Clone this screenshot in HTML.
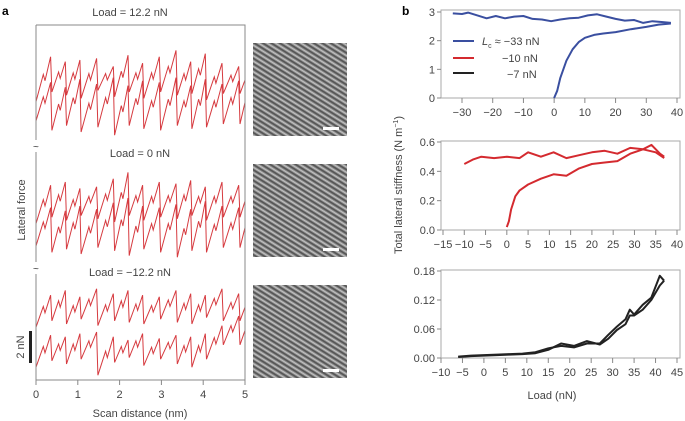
<!DOCTYPE html>
<html><head><meta charset="utf-8">
<style>
body{margin:0;background:#fff;}
svg{display:block;font-family:"Liberation Sans",sans-serif;}
</style></head>
<body>
<svg id="fig" width="685" height="421" viewBox="0 0 685 421">
<defs>
<pattern id="stripes" width="4.5" height="4.5" patternUnits="userSpaceOnUse" patternTransform="rotate(32)">
<rect width="4.5" height="4.5" fill="#8e8e8e"/>
<rect width="4.5" height="1.6" fill="#555"/>
<rect y="2.6" width="4.5" height="1" fill="#c8c8c8"/>
</pattern>
</defs>
<text x="2" y="15" font-size="12" font-weight="bold">a</text>
<text x="402" y="15" font-size="12" font-weight="bold">b</text>
<g id="pa"></g>
<g id="pb"></g>
<g font-family="Liberation Sans, sans-serif" font-size="11" fill="#444">
<line x1="453" y1="41" x2="474" y2="41" stroke="#3a4fa0" stroke-width="2"/>
<line x1="453" y1="58" x2="474" y2="58" stroke="#d42a2f" stroke-width="2"/>
<line x1="453" y1="73" x2="474" y2="73" stroke="#222" stroke-width="2"/>
<text x="482" y="45"><tspan font-style="italic">L</tspan><tspan font-size="7" dy="3">c</tspan><tspan dy="-3"> ≈ −33 nN</tspan></text>
<text x="502" y="62">−10 nN</text>
<text x="507" y="78">−7 nN</text>
<text x="552" y="399" text-anchor="middle">Load (nN)</text>
<text transform="translate(402,185) rotate(-90)" text-anchor="middle">Total lateral stiffness (N m<tspan font-size="7" dy="-4">−1</tspan><tspan dy="4">)</tspan></text>
</g>
</svg>
<script>
// ---- Panel a data (lateral force, nN) ----
const peakX = [0.35,0.7,1.05,1.45,1.85,2.2,2.55,2.95,3.35,3.7,4.05,4.45,4.85];
const topUpperPeaks = [5.2,4.9,5.0,5.1,4.6,5.3,4.8,5.2,5.6,4.9,5.4,4.8,4.6];
const topUpperValleys = [2.4,3.0,2.8,2.6,3.1,2.7,3.0,2.6,3.0,2.8,2.9,2.5,2.9];
const topLowerPeaks = [3.6,3.3,3.8,3.5,3.9,3.4,3.7,3.6,3.9,3.4,3.8,3.5,3.7];
const topLowerValleys = [1.2,0.6,0.9,0.5,0.8,0.3,0.9,0.7,0.6,0.9,0.7,0.8,1.0];
const midUpperPeaks = [4.8,5.0,4.6,4.7,5.2,5.6,4.8,5.0,4.9,5.1,4.7,5.0,4.8];
const midUpperValleys = [2.4,2.8,2.6,2.9,2.7,2.5,2.9,2.6,2.8,2.7,2.9,2.6,2.8];
const midLowerPeaks = [3.4,3.2,3.5,3.3,3.7,4.0,3.5,3.4,3.6,3.3,3.8,3.5,3.4];
const midLowerValleys = [1.0,0.6,0.8,0.5,0.9,0.7,0.4,0.8,0.6,0.3,0.7,0.6,0.9];
const botUpperPeaks = [5.3,5.6,5.2,5.7,5.4,5.6,5.3,5.2,5.6,5.4,5.3,5.7,5.4];
const botUpperValleys = [3.3,3.7,3.5,3.8,3.4,3.7,3.6,3.5,3.8,3.6,3.5,3.9,3.7];
const botLowerPeaks = [2.8,2.7,2.9,3.0,2.7,2.5,2.9,2.6,2.8,2.7,2.9,3.4,4.0];
const botLowerValleys = [0.8,1.2,1.0,1.3,0.3,1.1,1.4,0.9,1.3,1.0,0.8,1.3,2.2];
const scanTicks = [0,1,2,3,4,5];

// ---- Panel b data ----
const blueUpX = [-33,-30,-28,-25,-22,-19,-16,-13,-10,-7,-4,-1,2,5,8,11,14,17,20,23,26,29,32,35,38];
const blueUpY = [2.95,2.93,2.98,2.88,2.78,2.86,2.78,2.84,2.86,2.76,2.74,2.68,2.74,2.78,2.80,2.88,2.92,2.84,2.76,2.70,2.72,2.62,2.68,2.65,2.62];
const blueDnX = [0,1,2,4,6,8,10,13,16,20,25,30,34,38];
const blueDnY = [0,0.25,0.7,1.3,1.7,1.95,2.1,2.2,2.25,2.3,2.4,2.48,2.56,2.6];
const redUpX = [-10,-8,-6,-3,0,3,5,8,11,14,17,20,23,26,29,32,34,36,37];
const redUpY = [0.45,0.48,0.50,0.49,0.50,0.49,0.53,0.50,0.53,0.49,0.51,0.53,0.54,0.52,0.56,0.55,0.58,0.52,0.50];
const redDnX = [0,0.5,1,2,3,5,8,11,14,17,20,23,26,29,32,35,37];
const redDnY = [0.02,0.06,0.14,0.23,0.27,0.31,0.35,0.38,0.37,0.42,0.45,0.46,0.47,0.52,0.55,0.53,0.49];
const blkAX = [-6,-3,0,3,6,9,12,15,18,21,24,27,29,31,33,34,35,37,39,41,42];
const blkAY = [0.003,0.005,0.006,0.007,0.008,0.009,0.012,0.02,0.025,0.022,0.03,0.03,0.048,0.065,0.08,0.10,0.09,0.11,0.125,0.17,0.16];
const blkBX = [-6,-3,0,3,6,9,12,15,18,21,24,27,29,31,33,34,35,37,39,41,42];
const blkBY = [0.002,0.004,0.005,0.006,0.007,0.008,0.010,0.017,0.030,0.025,0.035,0.028,0.040,0.058,0.070,0.088,0.088,0.10,0.12,0.15,0.16];
const bTopTicks = [-30,-20,-10,0,10,20,30,40];
const bTopYTicks = [0,1,2,3];
const bMidTicks = [-15,-10,-5,0,5,10,15,20,25,30,35,40];
const bMidYTicks = [0.0,0.2,0.4,0.6];
const bBotTicks = [-10,-5,0,5,10,15,20,25,30,35,40,45];
const bBotYTicks = [0.00,0.06,0.12,0.18];

const NS="http://www.w3.org/2000/svg";
function mk(parent,tag,attrs,txt){const e=document.createElementNS(NS,tag);for(const k in attrs)e.setAttribute(k,attrs[k]);if(txt!==undefined)e.textContent=txt;parent.appendChild(e);return e;}
const pa=document.getElementById('pa'), pb=document.getElementById('pb');
const GRAY="#888";

// ---- panel a ----
const ax=v=>36+v*41.8;
function sawPath(peaks,valleys,base){
  const fy=f=>base-f*16;
  let d="M"+ax(0)+","+fy(valleys[0]);
  for(let i=0;i<peakX.length;i++){
    const xp=peakX[i], xs=i?peakX[i-1]+0.03:0;
    const xm=(xs+xp)/2;
    d+=" L"+ax(xm).toFixed(1)+","+fy((valleys[i]+peaks[i])/2+0.3).toFixed(1);
    d+=" L"+ax(xm+0.04).toFixed(1)+","+fy((valleys[i]+peaks[i])/2-0.1).toFixed(1);
    d+=" L"+ax(xp).toFixed(1)+","+fy(peaks[i]).toFixed(1);
    const nv=i+1<valleys.length?valleys[i+1]:valleys[i];
    d+=" L"+ax(Math.min(xp+0.03,5)).toFixed(1)+","+fy(nv).toFixed(1);
  }
  d+=" L"+ax(5)+","+fy((peaks[peaks.length-1]+valleys[valleys.length-1])/2);
  return d;
}
const aPanels=[
  {base:140,up:[topUpperPeaks,topUpperValleys],lo:[topLowerPeaks,topLowerValleys],name:'top'},
  {base:262,up:[midUpperPeaks,midUpperValleys],lo:[midLowerPeaks,midLowerValleys],name:'middle'},
  {base:380,up:[botUpperPeaks,botUpperValleys],lo:[botLowerPeaks,botLowerValleys],name:'bottom'}];
aPanels.forEach(p=>{
  const t1=mk(pa,'path',{d:sawPath(p.up[0],p.up[1],p.base),fill:'none',stroke:'#d63a3f','stroke-width':1});
  
  
  const t2=mk(pa,'path',{d:sawPath(p.lo[0],p.lo[1],p.base),fill:'none',stroke:'#d63a3f','stroke-width':1});
  
  
});
let fr=mk(pa,'path',{d:"M36,25 H245 V380",fill:'none',stroke:GRAY,'stroke-width':1});


let ls=mk(pa,'path',{d:"M36,25 V140 M36,152 V262 M36,274 V380 H245",fill:'none',stroke:GRAY,'stroke-width':1});


[146,268].forEach(y=>{const b=mk(pa,'text',{x:33,y:y+4,'font-size':10,fill:'#333'},'~');

});
scanTicks.forEach(t=>{
  const l=mk(pa,'line',{x1:ax(t),x2:ax(t),y1:380,y2:385,stroke:GRAY});
  
  
  const tx=mk(pa,'text',{x:ax(t),y:398,'font-size':11,'text-anchor':'middle',fill:'#444'},t);
  
  
});
[[130,16,'Load = 12.2 nN'],[140,157,'Load = 0 nN'],[130,276,'Load = −12.2 nN']].forEach(a=>{
  const t=mk(pa,'text',{x:a[0],y:a[1],'font-size':11,'text-anchor':'middle',fill:'#444'},a[2]);
  
  
});
let xt=mk(pa,'text',{x:140,y:417,'font-size':11,'text-anchor':'middle',fill:'#444'},'Scan distance (nm)');


let yt=mk(pa,'text',{x:0,y:0,'font-size':11,'text-anchor':'middle',fill:'#444',transform:'translate(25,210) rotate(-90)'},'Lateral force');


let sb=mk(pa,'rect',{x:29,y:331,width:3,height:32,fill:'#222'});


let sbt=mk(pa,'text',{x:0,y:0,'font-size':11,'text-anchor':'middle',fill:'#444',transform:'translate(24,347) rotate(-90)'},'2 nN');


[43,164,285].forEach(y=>{
  const r=mk(pa,'rect',{x:253,y:y,width:94,height:93,fill:'url(#stripes)'});
  
  
  const s=mk(pa,'rect',{x:323,y:y+84,width:16,height:3,fill:'#fff'});
  
  
});

// ---- panel b ----
function panelB(cfg){
  const sx=v=>cfg.px0+(v-cfg.xa)*(cfg.x1-cfg.px0)/(cfg.xb-cfg.xa);
  const sy=v=>cfg.y0+(v-cfg.ya)*(cfg.y1-cfg.y0)/(cfg.yb-cfg.ya);
  const f=mk(pb,'rect',{x:cfg.x0,y:cfg.top,width:cfg.right-cfg.x0,height:cfg.y0-cfg.top,fill:'none',stroke:'#aaa'});
  
  
  cfg.xt.forEach(t=>{
    const l=mk(pb,'line',{x1:sx(t),x2:sx(t),y1:cfg.y0,y2:cfg.y0+5,stroke:GRAY});
    
    
    const tx=mk(pb,'text',{x:sx(t),y:cfg.y0+18,'font-size':11,'text-anchor':'middle',fill:'#444'},t<0?'−'+(-t):t);
    
    
  });
  cfg.yt.forEach(t=>{
    const l=mk(pb,'line',{x1:cfg.x0-4,x2:cfg.x0,y1:sy(t),y2:sy(t),stroke:GRAY});
    
    
    const tx=mk(pb,'text',{x:cfg.x0-6,y:sy(t)+4,'font-size':11,'text-anchor':'end',fill:'#444'},t.toFixed(cfg.dec));
    
    
  });
  cfg.series.forEach(s=>{
    const d=s.x.map((v,i)=>(i?'L':'M')+sx(v).toFixed(1)+','+sy(s.y[i]).toFixed(1)).join(' ');
    const p=mk(pb,'path',{d:d,fill:'none',stroke:s.c,'stroke-width':2,'stroke-linejoin':'round'});
    
    
  });
}
panelB({name:'top-plot',x0:441,right:680,top:10,xa:-30,xb:40,px0:462,x1:677,y0:98,ya:0,yb:3,y1:12,dec:0,xt:bTopTicks,yt:bTopYTicks,
  series:[{x:blueUpX,y:blueUpY,c:'#3a4fa0',n:'blue-series-upper'},{x:blueDnX,y:blueDnY,c:'#3a4fa0',n:'blue-series-lower'}]});
panelB({name:'middle-plot',x0:441,right:680,top:141,xa:-15,xb:40,px0:443,x1:677,y0:230,ya:0,yb:0.6,y1:142,dec:1,xt:bMidTicks,yt:bMidYTicks,
  series:[{x:redUpX,y:redUpY,c:'#d42a2f',n:'red-series-upper'},{x:redDnX,y:redDnY,c:'#d42a2f',n:'red-series-lower'}]});
panelB({name:'bottom-plot',x0:441,right:680,top:270,xa:-10,xb:45,px0:441,x1:677,y0:358,ya:0,yb:0.18,y1:271,dec:2,xt:bBotTicks,yt:bBotYTicks,
  series:[{x:blkAX,y:blkAY,c:'#222',n:'black-series-a'},{x:blkBX,y:blkBY,c:'#222',n:'black-series-b'}]});
</script>
</body></html>
